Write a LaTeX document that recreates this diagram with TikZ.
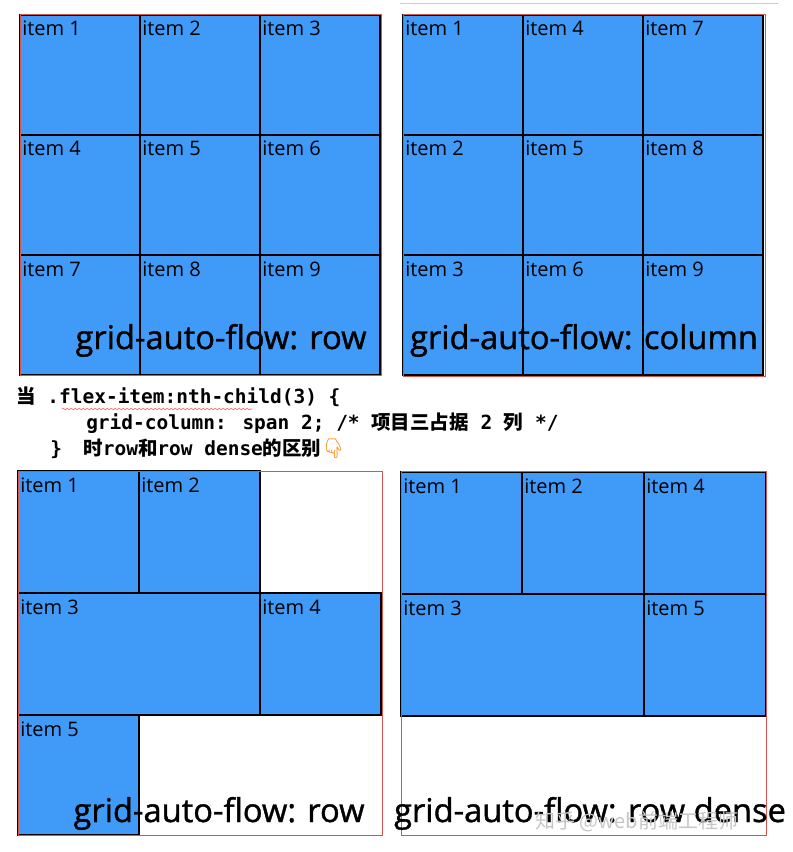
\documentclass[tikz,border=0pt]{standalone}
\usepackage{fontspec}
\usetikzlibrary{decorations.pathmorphing}
\setmainfont{Open Sans}
\newfontfamily\bigf[FakeBold=1.2]{Open Sans}
\newfontfamily\cjk{Noto Sans CJK SC}
\newfontfamily\monob{DejaVu Sans Mono}
\newfontfamily\emo{Noto Emoji}
\definecolor{cellblue}{HTML}{409AF8}
\definecolor{bordred}{HTML}{D9534F}
\tikzset{
  frame/.style={draw=bordred,line width=0.7pt},
  lbl/.style={anchor=base west,inner sep=0pt,font=\fontsize{15}{15}\selectfont},
  big/.style={anchor=base,inner sep=0pt,font=\bigf\fontsize{24.5}{24.5}\selectfont},
  code/.style={anchor=base west,inner sep=0pt,font=\monob\bfseries\fontsize{14.6}{14.6}\selectfont}
}
\newcommand{\gcell}[5]{\fill[cellblue] (#1,#2) rectangle (#3,#4); \draw[black,line width=0.8pt] (#1,#2) rectangle (#3,#4); \node[lbl] at (#1+2,#2+21) {#5};}
\begin{document}
\begin{tikzpicture}[x=0.75pt,y=-0.75pt]
\useasboundingbox (0,0) rectangle (792,852);
\fill[white] (0,0) rectangle (792,852);
\draw[gray!40,line width=0.5pt] (400,3) -- (778,3);
% panel 1
\foreach \r in {0,1,2}{\foreach \c in {0,1,2}{
  \pgfmathtruncatemacro{\n}{\r*3+\c+1}
  \fill[cellblue] (20+120*\c,15+120*\r) rectangle (140+120*\c,135+120*\r);
  \draw[black,line width=0.8pt] (20+120*\c,15+120*\r) rectangle (140+120*\c,135+120*\r);
  \node[lbl] at (22+120*\c,36+120*\r) {item \n};
}}
\draw[frame] (20,14) rectangle (381,375);
\node[big] (t1) at (221,349) {grid-auto-flow: row};
% panel 2
\foreach \r in {0,1,2}{\foreach \c in {0,1,2}{
  \pgfmathtruncatemacro{\n}{\c*3+\r+1}
  \fill[cellblue] (403+120*\c,15+120*\r) rectangle (523+120*\c,135+120*\r);
  \draw[black,line width=0.8pt] (403+120*\c,15+120*\r) rectangle (523+120*\c,135+120*\r);
  \node[lbl] at (405+120*\c,36+120*\r) {item \n};
}}
\draw[frame] (403,14) rectangle (765,376);
\node[big] (t2) at (584,349) {grid-auto-flow: column};
% code text
\node[code] (c1) at (16,403) {{\cjk 当} .flex-item:nth-child(3) \{};
\draw[red!70,decorate,decoration={snake,amplitude=0.6pt,segment length=3pt},line width=0.4pt] (62,409) -- (252,409);
\node[code] (c2) at (86,429) {grid-column: span 2; /* {\cjk 项目三占据} 2 {\cjk 列} */};
\node[code] (c3) at (50,455) {\}\hspace{1.1em}{\cjk 时}row{\cjk 和}row dense{\cjk 的区别}{\emo\color{orange}👇}};
% panel 3
\gcell{18}{471}{139}{593}{item 1}
\gcell{139}{471}{260}{593}{item 2}
\gcell{18}{593}{260}{715}{item 3}
\gcell{260}{593}{381}{715}{item 4}
\gcell{18}{715}{139}{835}{item 5}
\draw[frame] (18,471) rectangle (382,835);
\node[big] (t3) at (219,822) {grid-auto-flow: row};
% panel 4
\gcell{401}{472}{522}{594}{item 1}
\gcell{522}{472}{644}{594}{item 2}
\gcell{644}{472}{766}{594}{item 4}
\gcell{401}{594}{644}{716}{item 3}
\gcell{644}{594}{766}{716}{item 5}
\draw[frame] (401,471) rectangle (766,835);
\node[big] (t4) at (590,822) {grid-auto-flow: row dense};
\node[anchor=base west,inner sep=0pt,text=gray!45,font=\cjk\fontsize{15}{15}\selectfont] (wm) at (535,828) {知乎 @web前端工程师};
\end{tikzpicture}
\end{document}
